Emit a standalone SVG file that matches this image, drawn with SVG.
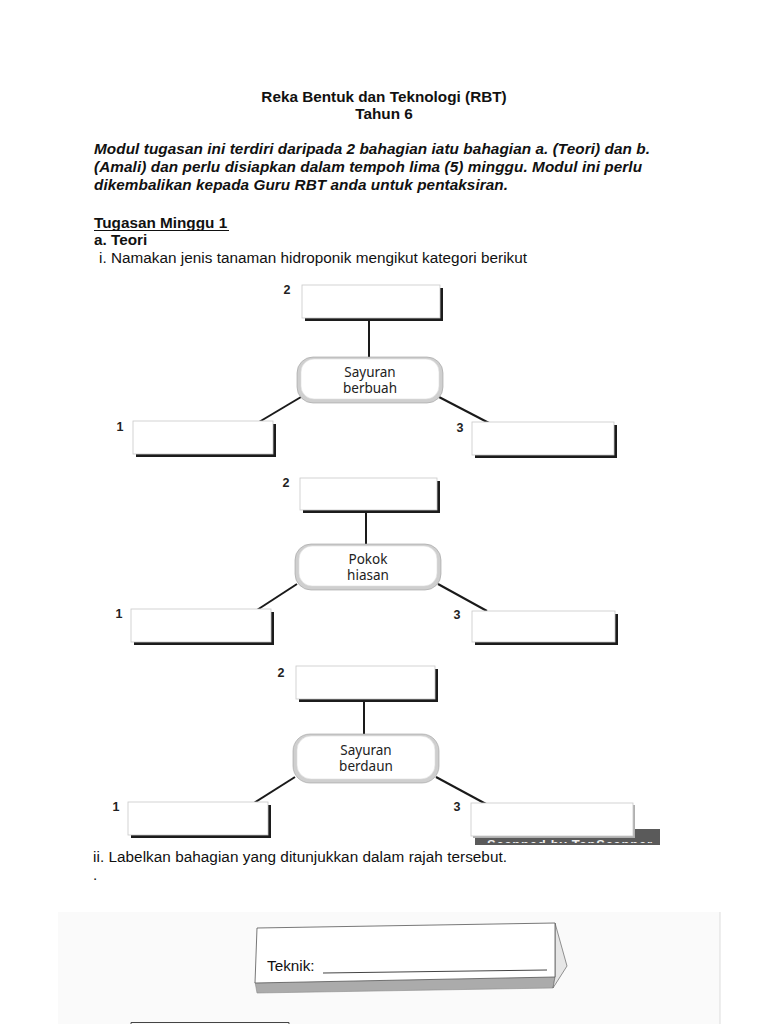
<svg xmlns="http://www.w3.org/2000/svg" width="768" height="1024" viewBox="0 0 768 1024">
<defs>
<style>
.t{font-family:"Liberation Sans",Arial,sans-serif;font-size:15.3px;fill:#111}
.b{font-weight:bold}
.bi{font-weight:bold;font-style:italic}
.num{font-family:"Liberation Sans",Arial,sans-serif;font-size:12.5px;font-weight:bold;fill:#222;text-anchor:middle}
.nt{font-family:"Noto Sans","DejaVu Sans",sans-serif;font-size:13.5px;fill:#222;text-anchor:middle}
.sh{fill:#1c1c1c}
.bx{fill:#fff;stroke:#c8c8c8;stroke-width:0.8}
.po{fill:#cfcfcf;stroke:#a0a0a0;stroke-width:0.6}
.pi{fill:#fff;stroke:#dedede;stroke-width:0.6}
.ln{stroke:#1a1a1a;stroke-width:2;fill:none}
</style>
<clipPath id="wm"><rect x="475" y="829" width="190" height="14"/></clipPath>
</defs>
<rect width="768" height="1024" fill="#fff"/>

<g id="header">
<text class="t b" x="384" y="102" text-anchor="middle">Reka Bentuk dan Teknologi (RBT)</text>
<text class="t b" x="384" y="119" text-anchor="middle">Tahun 6</text>
<text class="t bi" x="94" y="154" textLength="556">Modul tugasan ini terdiri daripada 2 bahagian iatu bahagian a. (Teori) dan b.</text>
<text class="t bi" x="94" y="172" textLength="548">(Amali) dan perlu disiapkan dalam tempoh lima (5) minggu. Modul ini perlu</text>
<text class="t bi" x="94" y="190" textLength="414">dikembalikan kepada Guru RBT anda untuk pentaksiran.</text>
<text class="t b" x="94" y="228">Tugasan Minggu 1</text>
<line x1="94" y1="230.5" x2="229" y2="230.5" stroke="#111" stroke-width="1.2"/>
<text class="t b" x="94" y="245">a. Teori</text>
<text class="t" x="99" y="263" textLength="428">i. Namakan jenis tanaman hidroponik mengikut kategori berikut</text>
</g>

<g id="connectors">
<line class="ln" x1="369" y1="318" x2="369" y2="358"/>
<line class="ln" x1="301" y1="397" x2="259" y2="422"/>
<line class="ln" x1="439" y1="397" x2="489" y2="423"/>
<line class="ln" x1="366" y1="511" x2="366" y2="545"/>
<line class="ln" x1="297" y1="584" x2="257" y2="610"/>
<line class="ln" x1="438" y1="584" x2="487" y2="611"/>
<line class="ln" x1="364" y1="701" x2="364" y2="735"/>
<line class="ln" x1="295" y1="777" x2="254" y2="803"/>
<line class="ln" x1="436" y1="777" x2="486" y2="804"/>
</g>

<!-- Diagram 1 -->
<g id="d1-box2"><rect class="sh" x="305" y="288" width="138" height="33"/><rect class="bx" x="302" y="285" width="138" height="33"/><text class="num" x="287" y="294">2</text></g>
<g id="d1-center"><rect class="po" x="297" y="357" width="146" height="46" rx="16"/><rect class="pi" x="301" y="359" width="138" height="40" rx="13"/><text class="nt" x="370" y="377">Sayuran</text><text class="nt" x="370" y="393">berbuah</text></g>
<g id="d1-box1"><rect class="sh" x="136" y="424" width="140" height="33"/><rect class="bx" x="133" y="421" width="140" height="33"/><text class="num" x="120" y="431">1</text></g>
<g id="d1-box3"><rect class="sh" x="475" y="425" width="142" height="33"/><rect class="bx" x="472" y="422" width="142" height="33"/><text class="num" x="460" y="432">3</text></g>

<!-- Diagram 2 -->
<g id="d2-box2"><rect class="sh" x="303" y="481" width="137" height="32"/><rect class="bx" x="300" y="478" width="137" height="32"/><text class="num" x="286" y="487">2</text></g>
<g id="d2-center"><rect class="po" x="295" y="544" width="146" height="46" rx="16"/><rect class="pi" x="299" y="546" width="138" height="40" rx="13"/><text class="nt" x="368" y="564">Pokok</text><text class="nt" x="368" y="580">hiasan</text></g>
<g id="d2-box1"><rect class="sh" x="134" y="612" width="140" height="33"/><rect class="bx" x="131" y="609" width="140" height="33"/><text class="num" x="119" y="618">1</text></g>
<g id="d2-box3"><rect class="sh" x="475" y="614" width="143" height="31"/><rect class="bx" x="472" y="611" width="143" height="31"/><text class="num" x="457" y="619">3</text></g>

<!-- Diagram 3 -->
<g id="d3-box2"><rect class="sh" x="299" y="669" width="139" height="33"/><rect class="bx" x="296" y="666" width="139" height="33"/><text class="num" x="281" y="677">2</text></g>
<g id="d3-center"><rect class="po" x="293" y="734" width="146" height="49" rx="17"/><rect class="pi" x="297" y="736" width="138" height="43" rx="14"/><text class="nt" x="366" y="755">Sayuran</text><text class="nt" x="366" y="771">berdaun</text></g>
<g id="d3-box1"><rect class="sh" x="131" y="805" width="140" height="33"/><rect class="bx" x="128" y="802" width="140" height="33"/><text class="num" x="116" y="811">1</text></g>
<g id="watermark"><rect x="475" y="829" width="185" height="16" fill="#5a5a5a"/><text x="487" y="849" clip-path="url(#wm)" font-family="'Liberation Sans',Arial,sans-serif" font-size="13" font-weight="bold" fill="#eee" textLength="165">Scanned by TapScanner</text></g>
<g id="d3-box3"><rect x="473" y="805" width="162" height="33" fill="#b0b0b0"/><rect class="bx" x="471" y="803" width="162" height="33"/><text class="num" x="457" y="811">3</text></g>

<g id="question2">
<text class="t" x="93" y="862" textLength="414">ii. Labelkan bahagian yang ditunjukkan dalam rajah tersebut.</text>
<text class="t" x="93" y="880">.</text>
</g>

<g id="scan-area">
<rect x="58" y="912" width="662" height="112" fill="#fafafa"/>
<line x1="720" y1="912" x2="720" y2="1024" stroke="#e2e2e2" stroke-width="1.2"/>
<path d="M131 1024 V1022.5 H289 V1024" fill="none" stroke="#444" stroke-width="1"/>
</g>

<g id="card">
<polygon points="255,982 555,976 553,988 257,993" fill="#ababab" stroke="#8c8c8c" stroke-width="0.6"/>
<polygon points="555,923 567,966 553,988 555,977" fill="#e6e6e6" stroke="#666" stroke-width="0.7"/>
<polygon points="257,928 555,923 555,977 255,983" fill="#fff" stroke="#555" stroke-width="0.8"/>
<text class="t" x="267" y="971" font-size="14.8">Teknik:</text>
<line x1="323" y1="973" x2="547" y2="970" stroke="#444" stroke-width="1"/>
</g>
</svg>
